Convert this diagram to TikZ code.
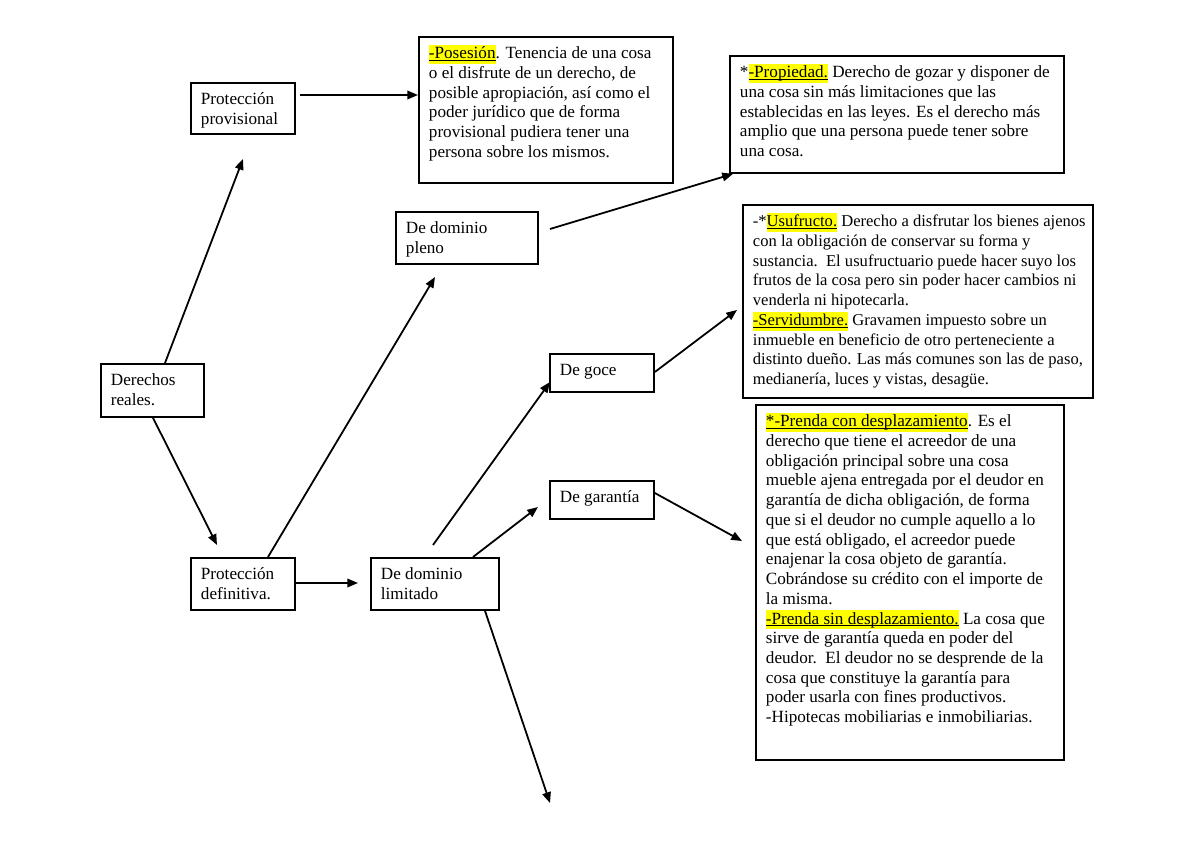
\documentclass[tikz,border=0pt]{standalone}
\usepackage{fontspec}
\setmainfont{Liberation Serif}
\usetikzlibrary{arrows.meta,calc}
\definecolor{hly}{RGB}{255,255,0}
\newcommand{\uln}[1]{\setbox0\hbox{#1}\rlap{\rule[-1.4pt]{\wd0}{0.5pt}}\box0}
\newcommand{\hlt}[1]{{\setlength{\fboxsep}{0pt}\colorbox{hly}{\rule[-3.6pt]{0pt}{13.4pt}\uln{#1}}}}
\newcommand{\bx}[7][]{\node[bx, minimum width=#5*0.7pt, minimum height=#6*0.7pt] (#2) at (#3,#4) {\begin{minipage}[c][\dimexpr #6pt*7/10-11pt\relax][t]{\dimexpr #5pt*7/10-14pt\relax}#1\begin{tabular}{@{}l@{}}#7\end{tabular}\end{minipage}};}
\tikzset{
  bx/.style={draw, line width=1.3pt, inner sep=0pt, anchor=north west, font=\fontsize{12}{13.8}\selectfont},
  arr/.style={-{Triangle[length=7.5pt,width=6pt]}, line width=1.25pt}
}
\begin{document}
\begin{tikzpicture}[x=0.7pt,y=-0.7pt]
\useasboundingbox (0,0) rectangle (1200,848);
\fill[white] (0,0) rectangle (1200,848);

\bx{prov}{190}{82}{104}{51}{Protección\\provisional}
\bx{pos}{418}{36}{254}{146}{\hlt{-Posesión}. Tenencia de una cosa\\o el disfrute de un derecho, de\\posible apropiación, así como el\\poder jurídico que de forma\\provisional pudiera tener una\\persona sobre los mismos.}
\bx{prop}{729}{55}{334}{117}{*\hlt{-Propiedad.} Derecho de gozar y disponer de\\una cosa sin más limitaciones que las\\establecidas en las leyes. Es el derecho más\\amplio que una persona puede tener sobre\\una cosa.}
\bx{pleno}{395}{211}{142}{52}{De dominio\\pleno}
\bx[\fontsize{11.6}{13.8}\selectfont]{usu}{742}{204}{350}{193}{-*\hlt{Usufructo.} Derecho a disfrutar los bienes ajenos\\con la obligación de conservar su forma y\\sustancia.\ \ El usufructuario puede hacer suyo los\\frutos de la cosa pero sin poder hacer cambios ni\\venderla ni hipotecarla.\\\hlt{-Servidumbre.} Gravamen impuesto sobre un\\inmueble en beneficio de otro perteneciente a\\distinto dueño. Las más comunes son las de paso,\\medianería, luces y vistas, desagüe.}
\bx{dr}{100}{363}{103}{53}{Derechos\\reales.}
\bx{goce}{549}{353}{104}{38}{De goce}
\bx{gar}{549}{480}{104}{38}{De garantía}
\bx{pren}{755}{404}{308}{355}{\hlt{*-Prenda con desplazamiento}. Es el\\derecho que tiene el acreedor de una\\obligación principal sobre una cosa\\mueble ajena entregada por el deudor en\\garantía de dicha obligación, de forma\\que si el deudor no cumple aquello a lo\\que está obligado, el acreedor puede\\enajenar la cosa objeto de garantía.\\Cobrándose su crédito con el importe de\\la misma.\\\hlt{-Prenda sin desplazamiento.} La cosa que\\sirve de garantía queda en poder del\\deudor.\ \ El deudor no se desprende de la\\cosa que constituye la garantía para\\poder usarla con fines productivos.\\-Hipotecas mobiliarias e inmobiliarias.}
\bx{def}{190}{557}{104}{52}{Protección\\definitiva.}
\bx{lim}{370}{557}{128}{52}{De dominio\\limitado}

\coordinate (e1) at (243,159);
\coordinate (e3) at (217,545);
\coordinate (e4) at (435,277);
\coordinate (e5) at (358,583);
\coordinate (s6) at (550,229);
\coordinate (s7) at (433,545);
\coordinate (e7) at (550,382);
\coordinate (e8) at (538,507);
\coordinate (e9) at (737,310);
\coordinate (e10) at (742,541);
\coordinate (e11) at (550,803);

\draw[arr] ($(dr.north west)+(65,0)$) -- (e1);
\draw[arr] ($(prov.north east)+(4,13)$) -- ($(pos.north west)+(0,59)$);
\draw[arr] ($(dr.south west)+(53,0)$) -- (e3);
\draw[arr] ($(def.north west)+(78,0)$) -- (e4);
\draw[arr] ($(def.north east)+(0,26)$) -- (e5);
\draw[arr] (s6) -- ($(prop.south west)+(4,0)$);
\draw[arr] (s7) -- (e7);
\draw[arr] ($(lim.north west)+(103,0)$) -- (e8);
\draw[arr] ($(goce.north east)+(0,19)$) -- (e9);
\draw[arr] ($(gar.north east)+(0,13)$) -- (e10);
\draw[arr] ($(lim.south west)+(115,0)$) -- (e11);
\end{tikzpicture}
\end{document}
